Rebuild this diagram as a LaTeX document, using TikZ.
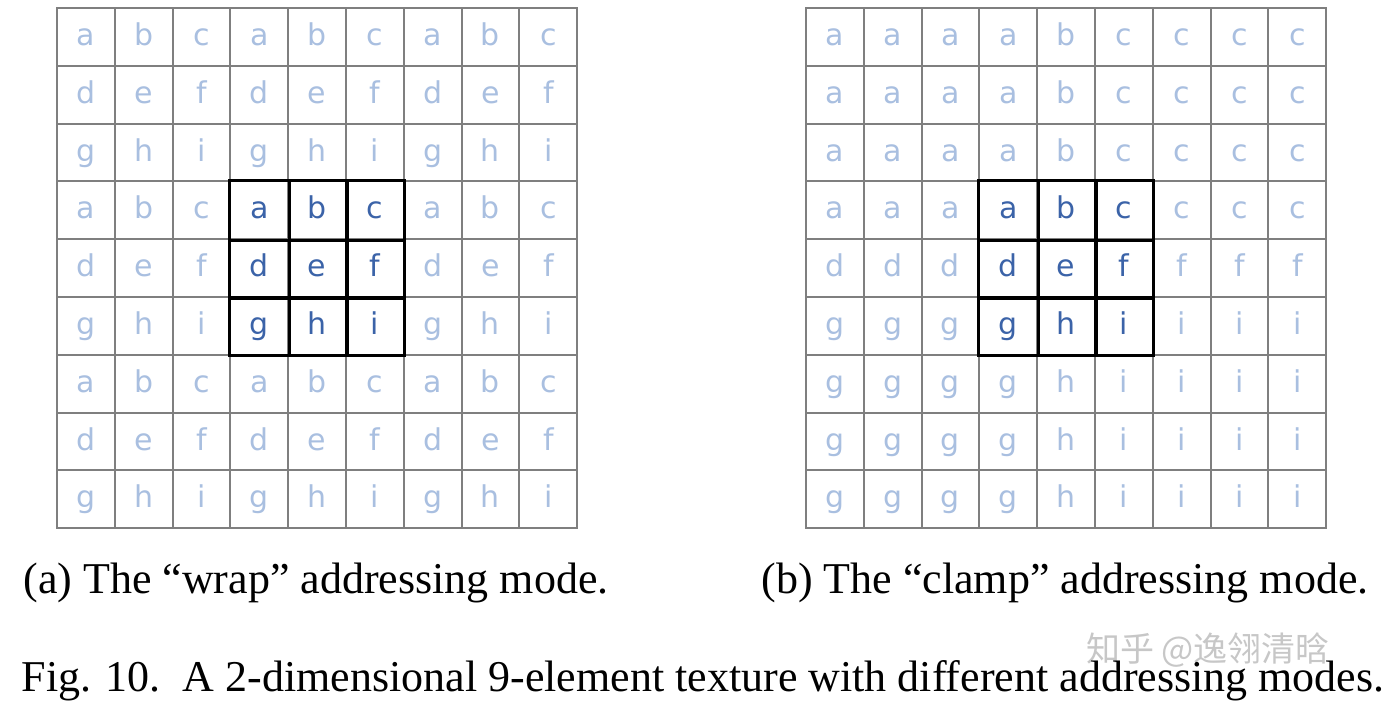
\documentclass[tikz,border=0pt]{standalone}
\usepackage{fontspec}
\setmainfont{Liberation Serif}
\newfontfamily\cellfont{DejaVu Sans}
\newfontfamily\cjk{Noto Sans CJK SC}
\definecolor{lite}{HTML}{A9BFE0}
\definecolor{dark}{HTML}{3B63A8}
\definecolor{gridc}{HTML}{7F7F7F}
\tikzset{cell/.style={draw=gridc,line width=1pt,minimum size=28.9pt,inner sep=0pt,text height=8.5pt,text depth=0pt,font=\cellfont\fontsize{15}{15}\selectfont},
lt/.style={cell,text=lite},dk/.style={cell,text=dark},
captxt/.style={font=\fontsize{22}{22}\selectfont}}
\begin{document}
\begin{tikzpicture}[x=0.5pt,y=-0.5pt]
\useasboundingbox (0,0) rectangle (1394,708);
\def\L{{"a","b","c","d","e","f","g","h","i"}}
\foreach \r in {0,...,8}{\foreach \c in {0,...,8}{
  \pgfmathtruncatemacro\sr{mod(\r,3)}\pgfmathtruncatemacro\sc{mod(\c,3)}
  \pgfmathsetmacro\ch{\L[\sr*3+\sc]}
  \pgfmathtruncatemacro\inside{(\r>2)&&(\r<6)&&(\c>2)&&(\c<6)}
  \ifnum\inside=1 \def\st{dk}\else\def\st{lt}\fi
  \node[\st] (w\r\c) at ({57+57.8*(\c+0.5)},{8+57.8*(\r+0.5)}) {\ch};
  \pgfmathtruncatemacro\cr{min(max(\r-3,0),2)}\pgfmathtruncatemacro\cc{min(max(\c-3,0),2)}
  \pgfmathsetmacro\ch{\L[\cr*3+\cc]}
  \node[\st] (k\r\c) at ({806+57.8*(\c+0.5)},{8+57.8*(\r+0.5)}) {\ch};
}}
\draw[line width=1.6pt] (w33.north west) rectangle (w55.south east);
\draw[line width=1.6pt] (w33.north east) -- (w53.south east) (w34.north east) -- (w54.south east)
  (w33.south west) -- (w35.south east) (w43.south west) -- (w45.south east);
\draw[line width=1.6pt] (k33.north west) rectangle (k55.south east);
\draw[line width=1.6pt] (k33.north east) -- (k53.south east) (k34.north east) -- (k54.south east)
  (k33.south west) -- (k35.south east) (k43.south west) -- (k45.south east);
\node[captxt] (ca) at (316,583) {(a) The “wrap” addressing mode.};
\node[captxt] (cb) at (1065,583) {(b) The “clamp” addressing mode.};
\node[font=\cjk\fontsize{17}{17}\selectfont,text=black!22] (wm) at (1208,650) {知乎 @逸翎清晗};
\node[captxt] (fig) at (703,681) {Fig. 10.\ \ A 2-dimensional 9-element texture with different addressing modes.};
\end{tikzpicture}
\end{document}
